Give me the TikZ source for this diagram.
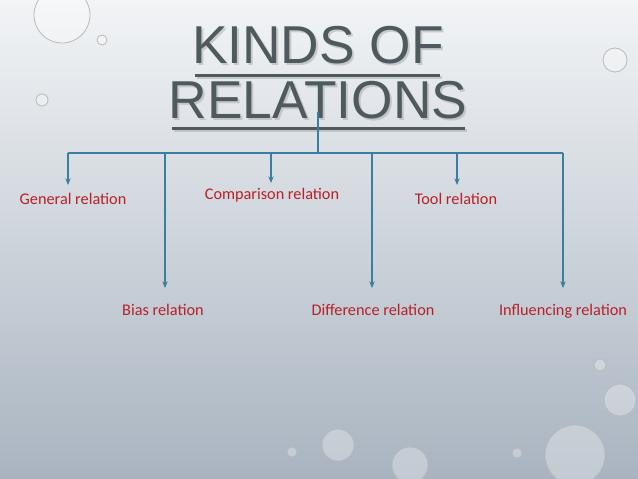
\documentclass[tikz,border=0pt]{standalone}
\usepackage{fontspec}
\setmainfont{Carlito}
\newfontfamily\titlefont{Liberation Sans}
\usetikzlibrary{arrows.meta}
\definecolor{linec}{HTML}{3A7FA0}
\definecolor{labc}{HTML}{B8202A}
\definecolor{titc}{HTML}{4F5A5F}
\definecolor{bgtop}{HTML}{F2F4F6}
\definecolor{bgbot}{HTML}{A9B4C0}
\begin{document}
\begin{tikzpicture}[x=0.75pt,y=-0.75pt,
  conn/.style={draw=linec,line width=0.8pt},
  arr/.style={conn,-{Stealth[length=5pt,width=4pt]}},
  lab/.style={text=labc,font=\fontsize{12.2}{14}\selectfont,inner sep=0pt,anchor=base},
  ttl/.style={font=\titlefont\fontsize{40}{40}\selectfont,inner sep=0pt},
  drop/.style={draw=gray!55,line width=0.6pt,fill=white,fill opacity=0.3}]
\shade[top color=bgtop,bottom color=bgbot] (0,0) rectangle (638,478);
\useasboundingbox (0,0) rectangle (638,478);
% droplets (decoration)
\foreach \x/\y/\r in {42/100/6,102/40/5,615/60/12,600/365/6,620/400/16,338/445/16,410/465/18,292/452/5,517/453/5,575/455/30,62/15/28}
  \draw[drop] (\x,\y) circle (\r);
% title
\node[ttl,text=black!35,opacity=0.5] at (320,47) {KINDS OF};
\node[ttl,text=titc] (t1) at (318,45) {KINDS OF};
\node[ttl,text=black!35,opacity=0.5] at (320,102) {RELATIONS};
\node[ttl,text=titc] (t2) at (318,100) {RELATIONS};
\fill[black!35,opacity=0.5] (197,76) rectangle (442,79);
\fill[titc] (195,74) rectangle (440,77);
\fill[black!35,opacity=0.5] (174,129) rectangle (467,132);
\fill[titc] (172,127) rectangle (465,130);
% labels
\node[lab] (g) at (73,204) {General relation};
\node[lab] (c) at (272,199) {Comparison relation};
\node[lab] (t) at (456,204) {Tool relation};
\node[lab] (b) at (163,315) {Bias relation};
\node[lab] (d) at (373,315) {Difference relation};
\node[lab] (i) at (563,315) {Influencing relation};
% connectors
\coordinate (top) at (318,112);
\coordinate (j) at (318,153);
\coordinate (l) at (68,153);
\coordinate (r) at (563,153);
\draw[conn] (top) -- (j);
\draw[conn] (l) -- (r);
\draw[arr] (68,153) -- (68,185);
\draw[arr] (165,153) -- (165,288);
\draw[arr] (271,153) -- (271,183);
\draw[arr] (372,153) -- (372,288);
\draw[arr] (457,153) -- (457,185);
\draw[arr] (563,153) -- (563,288);
\end{tikzpicture}
\end{document}
